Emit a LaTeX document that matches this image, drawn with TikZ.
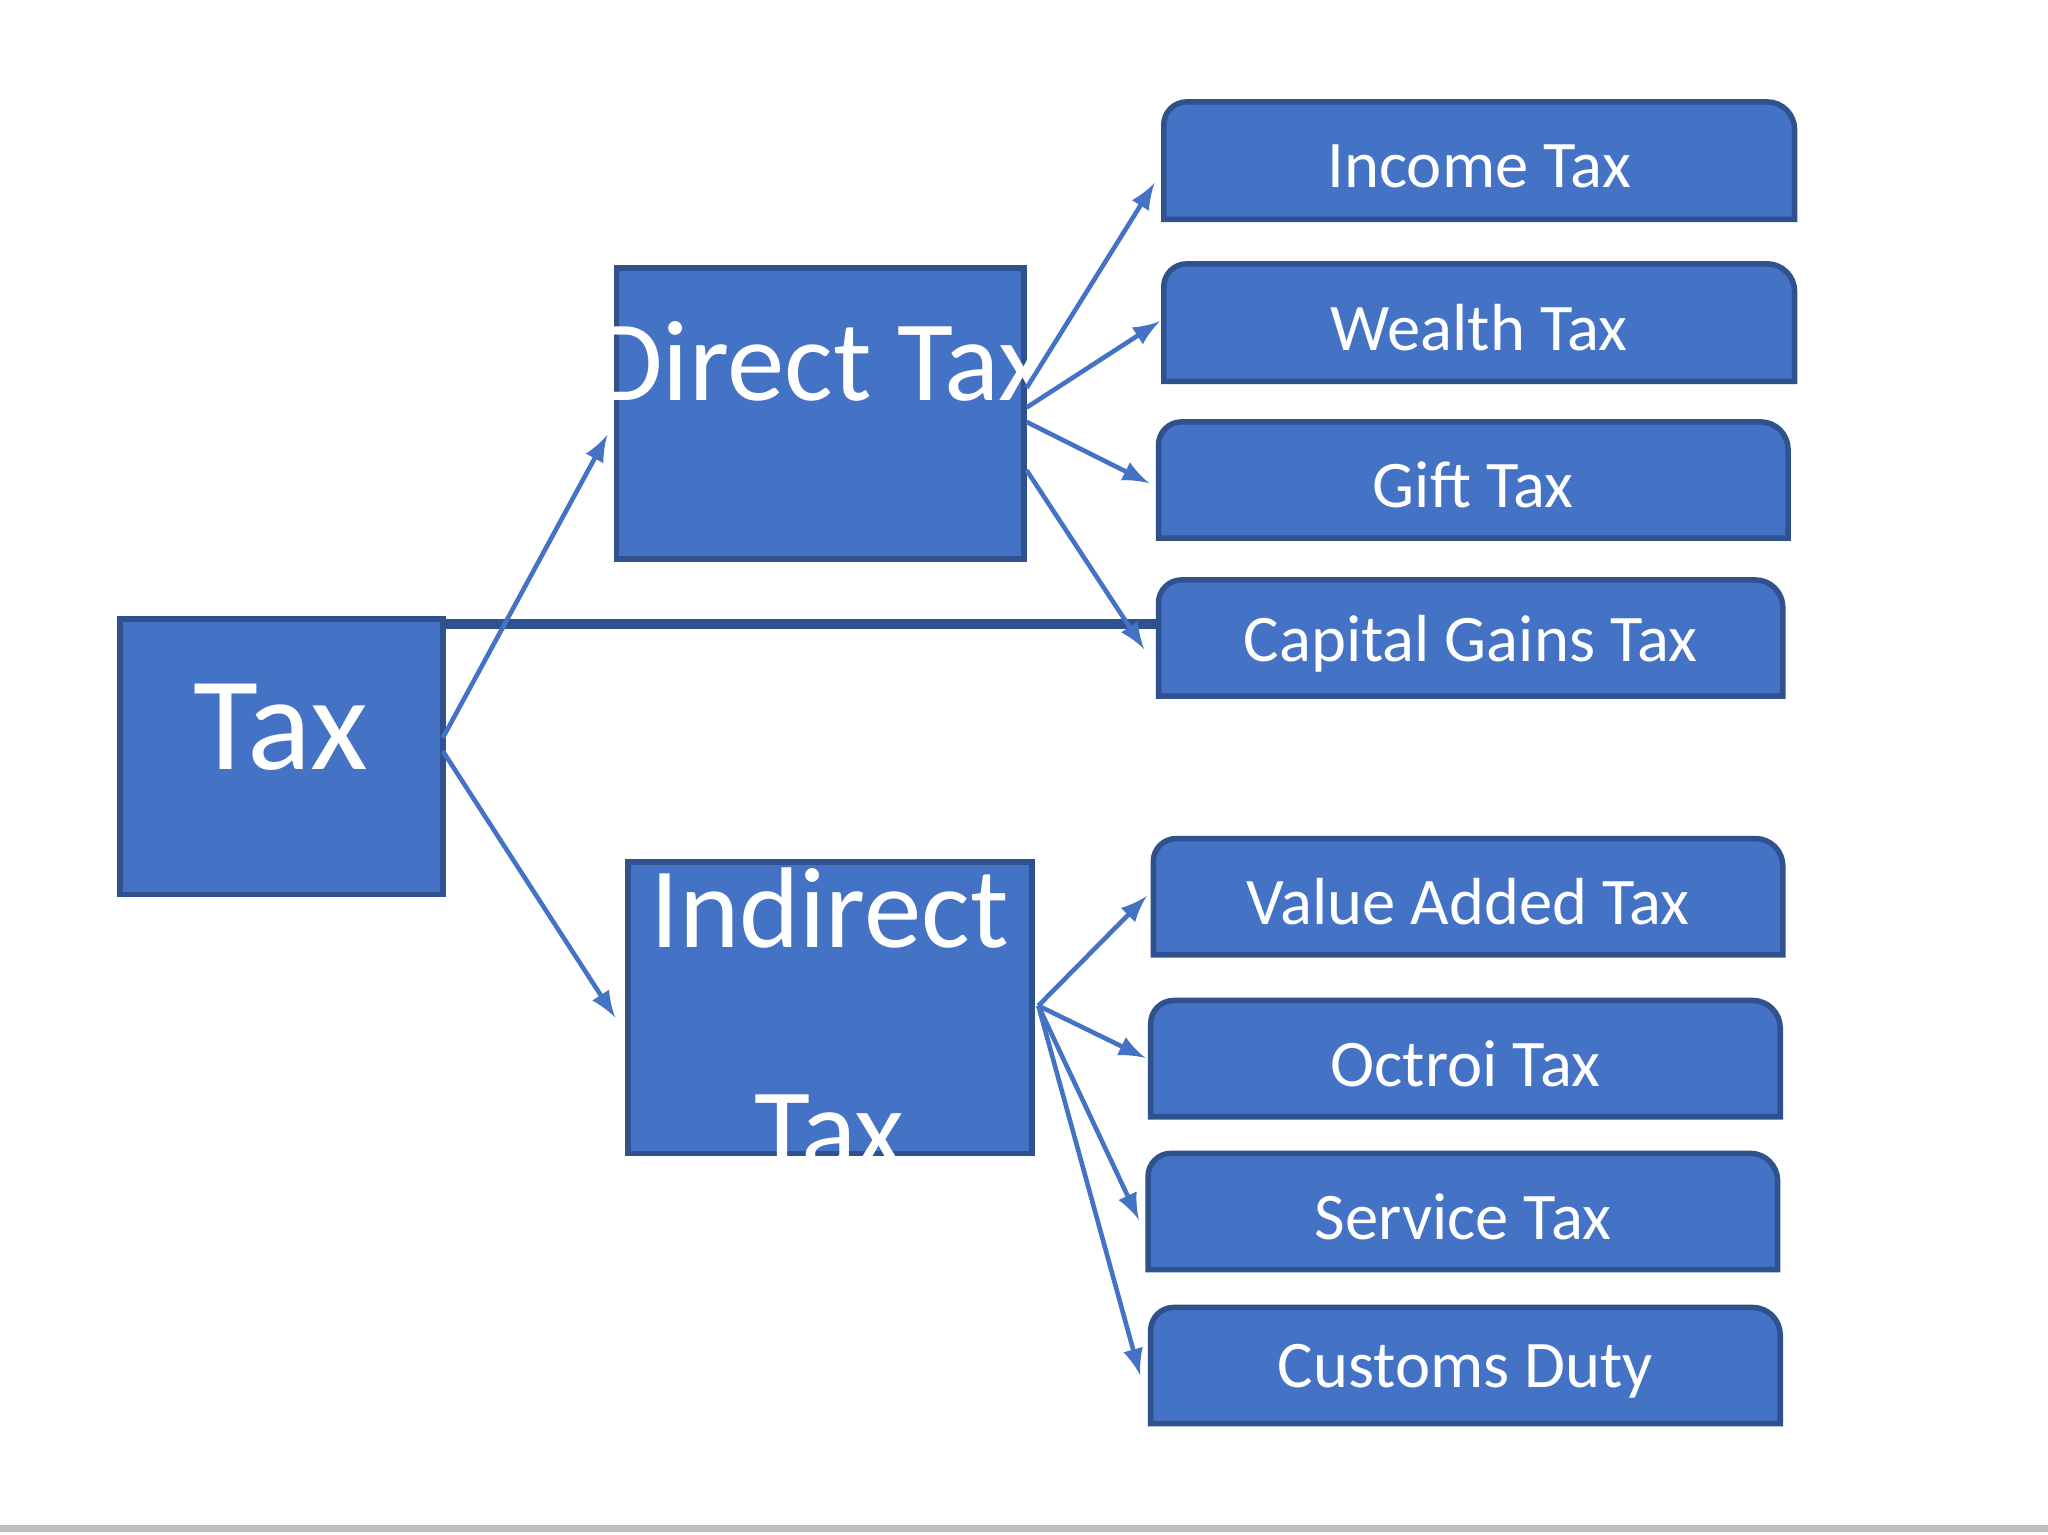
\documentclass[tikz,border=0pt]{standalone}
\usepackage{fontspec}
\setmainfont{Carlito}
\usetikzlibrary{calc}
\definecolor{boxfill}{HTML}{4472C4}
\definecolor{boxline}{HTML}{2F528F}
\begin{document}
\begin{tikzpicture}[x=0.01cm,y=-0.01cm,
  bigbox/.style={draw=boxline,line width=1.2pt,fill=boxfill,text=white,inner sep=0pt},
  leaf/.style={draw=boxline,line width=1.2pt,fill=boxfill,text=white,inner sep=0pt,rounded corners=5pt,font=\fontsize{14}{16}\selectfont},
  arr/.style={draw=boxfill,line width=1pt,-latex}]
\useasboundingbox (0,0) rectangle (1568,1175);
\fill[white] (0,0) rectangle (1568,1175);
\draw[gray!50,line width=1.5pt] (0,1170) -- (1568,1170);
% main boxes
\node[bigbox,minimum width=247\pgflinewidth,anchor=north west] (tax) at (92,474) {};
\path[bigbox] (92,474) rectangle (339,685);
\node[text=white,font=\fontsize{29}{34}\selectfont] (taxl) at (215,557) {Tax};
\path[bigbox] (472,205) rectangle (784,428);
\node[text=white,font=\fontsize{25}{30}\selectfont] (dirl) at (628,277) {Direct Tax};
\path[bigbox] (481,660) rectangle (790,883);
\node[text=white,font=\fontsize{25}{30}\selectfont,align=center] (indl) at (635,780) {Indirect\\[18pt]Tax};
\coordinate (taxE1) at (339,565); \coordinate (taxE2) at (339,575);
\coordinate (dirW) at (465,333); \coordinate (indW) at (471,779);
\coordinate (d1) at (786,297); \coordinate (d2) at (786,312);
\coordinate (d3) at (786,323); \coordinate (d4) at (786,360);
\coordinate (i0) at (795,770);
% leaves
\foreach \n/\xa/\ya/\xb/\yb/\t in {
 inc/891/78/1374/168/Income Tax,
 wea/891/202/1374/292/Wealth Tax,
 gif/887/323/1369/412/Gift Tax,
 cap/887/444/1365/533/Capital Gains Tax,
 vat/883/642/1365/731/Value Added Tax,
 oct/881/766/1363/855/Octroi Tax,
 ser/879/883/1361/972/Service Tax,
 cus/881/1001/1363/1090/Customs Duty}{
 \path[leaf] (\xa,\yb) -- (\xa,\ya) [rounded corners=6pt] -- (\xb,\ya) [sharp corners] -- (\xb,\yb) -- cycle;
 \node[text=white,font=\fontsize{14.5}{17}\selectfont] (\n) at ({(\xa+\xb)/2},{(\ya+\yb)/2+4}) {\t};
}
\coordinate (incW) at (884,140); \coordinate (weaW) at (888,246);
\coordinate (gifW) at (880,370); \coordinate (capW) at (876,497);
\coordinate (vatW) at (878,686); \coordinate (octW) at (877,810);
\coordinate (serW) at (872,934); \coordinate (cusW) at (873,1053);
\draw[arr] (taxE1) -- (dirW);
\draw[arr] (taxE2) -- (indW);
\draw[arr] (d1) -- (incW);
\draw[arr] (d2) -- (weaW);
\draw[arr] (d3) -- (gifW);
\draw[arr] (d4) -- (capW);
\draw[arr] (i0) -- (vatW);
\draw[arr] (i0) -- (octW);
\draw[arr] (i0) -- (serW);
\draw[arr] (i0) -- (cusW);
\end{tikzpicture}
\end{document}
